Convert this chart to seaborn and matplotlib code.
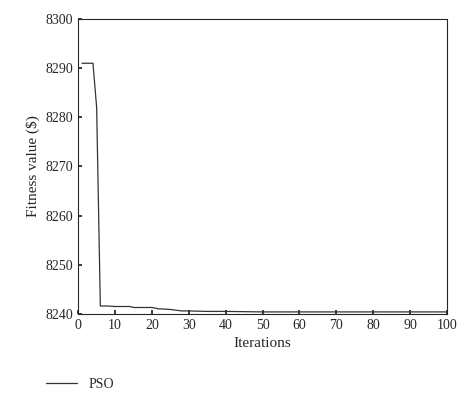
import numpy as np
import pandas as pd
import matplotlib
matplotlib.use("Agg")
import matplotlib.pyplot as plt
import seaborn as sns

# iteration / fitness values
iterations = [1, 2, 3, 4, 5, 6, 8, 10, 12, 14, 15, 16, 18, 20, 22, 23, 25, 27, 28, 30, 35, 40, 50, 60, 70, 80, 90, 100]
fitness = [8291, 8291, 8291, 8291, 8282, 8241.6, 8241.6, 8241.5, 8241.5, 8241.5, 8241.3, 8241.3, 8241.3, 8241.3, 8241.0, 8241.0,
           8240.9, 8240.7, 8240.6, 8240.6, 8240.5, 8240.5, 8240.4, 8240.4, 8240.4, 8240.4, 8240.4, 8240.4]

df = pd.DataFrame({"Iterations": iterations, "Fitness": fitness})

sns.set_theme(style="ticks")
plt.rcParams["font.family"] = ["Liberation Serif", "DejaVu Serif"]

fig = plt.figure(figsize=(4.74, 4.05), dpi=100)
ax = fig.add_axes([0.165, 0.225, 0.778, 0.728])
sns.lineplot(data=df, x="Iterations", y="Fitness", ax=ax, color="#333333", linewidth=0.9, label="PSO")

ax.set_xlim(0, 100)
ax.set_ylim(8240, 8300)
ax.set_xticks(range(0, 101, 10))
ax.set_yticks(range(8240, 8301, 10))
ax.set_xlabel("Iterations", fontsize=11)
ax.set_ylabel("Fitness value ($)", fontsize=11)
ax.tick_params(labelsize=10, direction="in", length=3)
for s in ax.spines.values():
    s.set_linewidth(0.8)

ax.legend(loc="upper left", bbox_to_anchor=(-0.12, -0.175), frameon=False, fontsize=10, handlelength=2.2)
fig.savefig("out.png", dpi=100)
